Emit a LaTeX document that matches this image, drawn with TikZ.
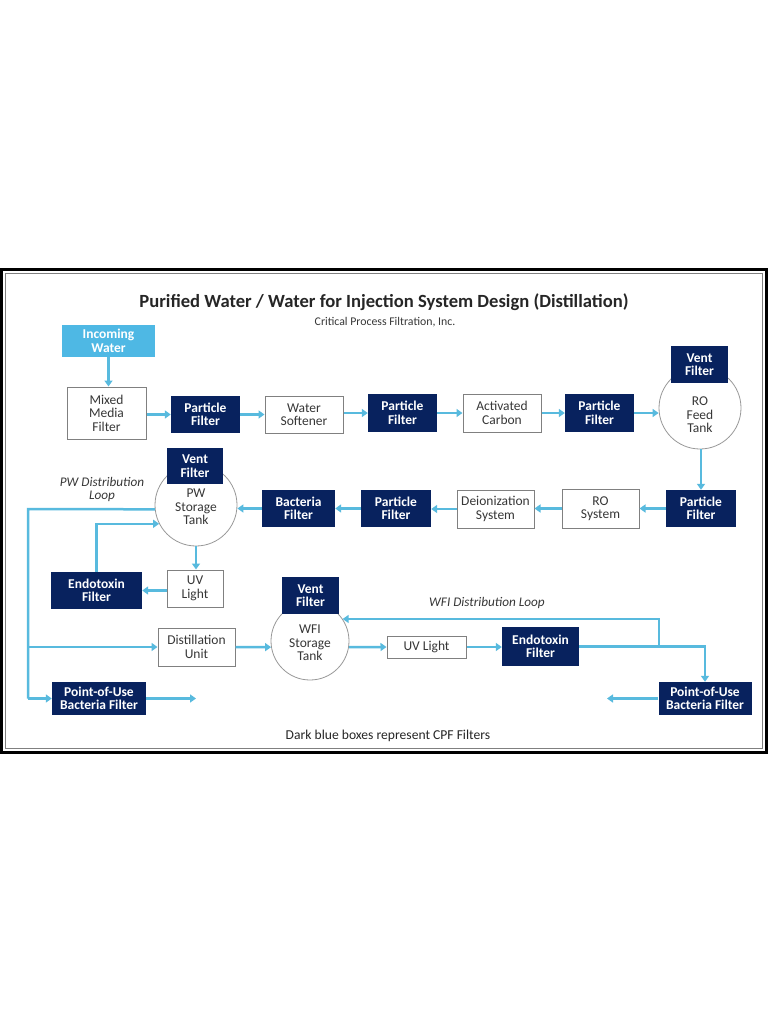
\documentclass[tikz,border=0pt]{standalone}
\usepackage{fontspec}
\setmainfont{Carlito}
\usetikzlibrary{arrows.meta}
\definecolor{navy}{RGB}{8,34,94}
\definecolor{flow}{RGB}{88,186,222}
\definecolor{inblue}{RGB}{78,184,228}
\definecolor{boxtxt}{RGB}{55,55,55}
\definecolor{boxline}{RGB}{128,128,128}
\tikzset{
  filt/.style={rectangle,fill=navy,text=white,font=\fontsize{13.5}{13.5}\selectfont\bfseries,align=center,inner sep=0pt},
  proc/.style={rectangle,draw=boxline,line width=1pt,fill=white,text=boxtxt,font=\fontsize{13.5}{13.5}\selectfont,align=center,inner sep=0pt},
  tank/.style={circle,draw=boxline!80,line width=0.8pt,fill=white,text=boxtxt,font=\fontsize{13.5}{13.5}\selectfont,align=center,inner sep=0pt},
  flowline/.style={draw=flow,line width=2.5pt},
  fa/.style={flowline,-{Triangle[width=8pt,length=6pt]}},
  lbl/.style={font=\fontsize{13.2}{13.5}\selectfont\itshape,text=boxtxt,align=center}
}
\begin{document}
\begin{tikzpicture}[x=1pt,y=-1pt]
\useasboundingbox (0,0) rectangle (768,1024);
\fill[white] (0,0) rectangle (768,1024);
% frame
\draw[black,line width=3pt] (1.5,269.5) rectangle (766,752.5);
\draw[boxline,line width=1pt] (5,273.5) rectangle (762,748);
% titles
\node[font=\fontsize{18.6}{20}\selectfont\bfseries,text=black!85] (title) at (384,302) {Purified Water / Water for Injection System Design (Distillation)};
\node[font=\fontsize{11.8}{12}\selectfont,text=boxtxt] (sub) at (385,322) {Critical Process Filtration, Inc.};
\node[font=\fontsize{13.6}{14}\selectfont,text=black!85] (note) at (388,736) {Dark blue boxes represent CPF Filters};
% row 1
\node[rectangle,fill=inblue,text=white,font=\fontsize{13.5}{13.5}\selectfont\bfseries,align=center,inner sep=0pt,minimum width=93pt,minimum height=32pt] (inc) at (108.5,341) {Incoming\\Water};
\node[proc,minimum width=79pt,minimum height=52pt] (mmf) at (106.5,413) {Mixed\\Media\\Filter};
\node[filt,minimum width=69pt,minimum height=37pt] (pf1) at (205.5,414.5) {Particle\\Filter};
\node[proc,minimum width=78pt,minimum height=37pt] (ws) at (304,414.5) {Water\\Softener};
\node[filt,minimum width=69pt,minimum height=38pt] (pf2) at (402.5,413) {Particle\\Filter};
\node[proc,minimum width=78pt,minimum height=38pt] (ac) at (502,413) {Activated\\Carbon};
\node[filt,minimum width=69pt,minimum height=38pt] (pf3) at (599.5,413) {Particle\\Filter};
\node[tank,minimum size=82pt] (rot) at (700,408) {};
\node[tank,draw=none,fill=none] (rotxt) at (700,415) {RO\\Feed\\Tank};
\node[filt,minimum width=57pt,minimum height=37pt] (rov) at (699.5,364.5) {Vent\\Filter};
% row 2
\node[filt,minimum width=70pt,minimum height=37pt] (pf4) at (701,508.5) {Particle\\Filter};
\node[proc,minimum width=77pt,minimum height=39pt] (ros) at (600.5,508.5) {RO\\System};
\node[proc,minimum width=77pt,minimum height=38pt] (dei) at (495.5,509) {Deionization\\System};
\node[filt,minimum width=70pt,minimum height=37pt] (pf5) at (396,508.5) {Particle\\Filter};
\node[filt,minimum width=73pt,minimum height=37pt] (bf) at (298.5,508.5) {Bacteria\\Filter};
\node[tank,minimum size=82pt] (pwt) at (196,505) {};
\node[tank,draw=none,fill=none] (pwtxt) at (196,507) {PW\\Storage\\Tank};
\node[filt,minimum width=56pt,minimum height=36pt] (pwv) at (195,466) {Vent\\Filter};
\node[proc,minimum width=56pt,minimum height=37pt] (uv1) at (195,588.5) {UV\\Light};
\node[filt,minimum width=91pt,minimum height=37pt] (endo1) at (96.5,590.5) {Endotoxin\\Filter};
\node[lbl] (pwlbl) at (102,489.5) {PW Distribution\\Loop};
% row 3
\node[proc,minimum width=77pt,minimum height=38pt] (dist) at (196.5,647) {Distillation\\Unit};
\node[tank,minimum size=78pt] (wft) at (310,641) {};
\node[tank,draw=none,fill=none] (wftxt) at (310,643) {WFI\\Storage\\Tank};
\node[filt,minimum width=57pt,minimum height=37pt] (wfv) at (310.5,595.5) {Vent\\Filter};
\node[proc,minimum width=79pt,minimum height=22pt] (uv2) at (426.5,647) {UV Light};
\node[filt,minimum width=77pt,minimum height=39pt] (endo2) at (540.5,646.5) {Endotoxin\\Filter};
\node[filt,minimum width=93pt,minimum height=33pt] (pou2) at (705,698.5) {Point-of-Use\\Bacteria Filter};
\node[filt,minimum width=94pt,minimum height=33pt] (pou1) at (99,698.5) {Point-of-Use\\Bacteria Filter};
\node[lbl] (wfilbl) at (487,603) {WFI Distribution Loop};
% coordinates
\coordinate (tl) at (28,509);
\coordinate (tj) at (28,647);
\coordinate (tb) at (28,698.5);
\coordinate (o1) at (196,698.5);
\coordinate (o2) at (607,698.5);
\coordinate (rj) at (659,646.5);
% connectors row 1
\draw[fa] (inc.south) -- (inc.south |- mmf.north);
\draw[fa] (mmf.east |- pf1.west) -- (pf1.west);
\draw[fa] (pf1.east) -- (ws.west);
\draw[fa] (ws.east |- pf2.west) -- (pf2.west);
\draw[fa] (pf2.east) -- (ac.west);
\draw[fa] (ac.east) -- (pf3.west);
\draw[fa] (pf3.east) -- (rot.west |- pf3.east);
\draw[fa] (rot.south -| pf4.north) -- (pf4.north);
% row 2
\draw[fa] (pf4.west) -- (ros.east |- pf4.west);
\draw[fa] (ros.west) -- (dei.east |- ros.west);
\draw[fa] (dei.west) -- (pf5.east |- dei.west);
\draw[fa] (pf5.west) -- (bf.east |- pf5.west);
\draw[fa] (bf.west) -- (pwt.east |- bf.west);
\draw[fa] (pwt.south) -- (uv1.north -| pwt.south);
\draw[fa] (uv1.west |- endo1.east) -- (endo1.east);
\draw[fa] (endo1.north) |- (pwt.207.6);
% PW loop
\draw[flowline,line join=miter] (pwt.186) -- (tl) -- (tb);
\draw[fa] (tb) -- (pou1.west);
\draw[fa] (tj) -- (dist.west);
\draw[fa] (pou1.east) -- (o1);
% row 3
\draw[fa] (dist.east) -- (wft.189);
\draw[fa] (wft.351) -- (uv2.west);
\draw[fa] (uv2.east) -- (endo2.west |- uv2.east);
\draw[fa,line join=miter] (endo2.east) -| (pou2.north);
\draw[fa,line join=miter] (rj) |- (wft.34.3);
\draw[fa] (pou2.west) -- (o2);
\end{tikzpicture}
\end{document}
